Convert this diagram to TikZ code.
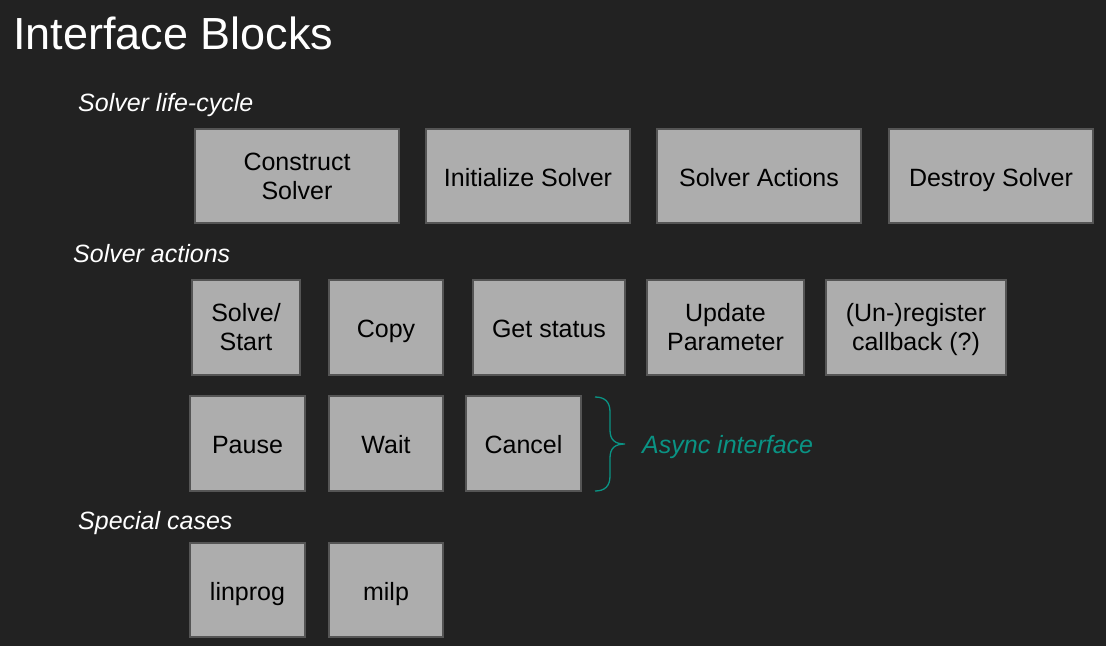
\documentclass[tikz,border=0pt]{standalone}
\usepackage{fontspec}
\setmainfont{Liberation Sans}
\definecolor{bg}{HTML}{222222}
\definecolor{boxfill}{HTML}{ADADAD}
\definecolor{boxline}{HTML}{555555}
\definecolor{teal}{HTML}{0A9384}
\tikzset{
  blk/.style={draw=boxline, line width=1.2pt, fill=boxfill, inner sep=0pt, align=center,
    font=\fontsize{25}{29}\selectfont, text=black, text height=20pt, text depth=0pt},
  two/.style={text height=46pt, text depth=0pt},
  sect/.style={anchor=base west, text=white, font=\fontsize{25}{28}\selectfont\itshape, inner sep=0pt},
}
\newcommand{\blkat}[7][]{\node[blk, #1, minimum width={#5-#3}, minimum height={#6-#4}] (#2) at ({(#3+#5)/2},{(#4+#6)/2}) {#7};}
\begin{document}
\begin{tikzpicture}[x=1pt,y=-1pt]
\fill[bg] (0,0) rectangle (1106,646);
\useasboundingbox (0,0) rectangle (1106,646);
\node[anchor=base west, text=white, font=\fontsize{45}{50}\selectfont, inner sep=0pt] (title) at (13,49) {Interface Blocks};
\node[sect] (lc) at (78,111) {Solver life-cycle};
\node[sect] (sa) at (73,262) {Solver actions};
\node[sect] (sc) at (78,529) {Special cases};
% row 1
\blkat[two]{cs}{195}{129}{399}{223}{Construct\\Solver}
\blkat{is}{426}{129}{630}{223}{Initialize Solver}
\blkat{act}{657}{129}{861}{223}{Solver Actions}
\blkat{ds}{889}{129}{1093}{223}{Destroy Solver}
% row 2
\blkat[two]{ss}{192}{280}{300}{375}{Solve/\\Start}
\blkat{cp}{329}{280}{443}{375}{Copy}
\blkat{gs}{473}{280}{625}{375}{Get status}
\blkat[two]{up}{647}{280}{804}{375}{Update\\Parameter}
\blkat[two]{rc}{826}{280}{1006}{375}{(Un-)register\\callback (?)}
% row 3
\blkat{pa}{190}{396}{305}{491}{Pause}
\blkat{wt}{329}{396}{443}{491}{Wait}
\blkat{cn}{466}{396}{581}{491}{Cancel}
% row 4
\blkat{lp}{190}{543}{305}{637}{linprog}
\blkat{ml}{329}{543}{443}{637}{milp}
% brace
\draw[teal, line width=1.3pt] (595,397) .. controls (605,397) and (610,402) .. (610,412) -- (610,430) .. controls (610,440) and (615,444) .. (625,444) .. controls (615,444) and (610,448) .. (610,458) -- (610,476) .. controls (610,486) and (605,491) .. (595,491);
\node[anchor=base west, text=teal, font=\fontsize{25}{28}\selectfont\itshape, inner sep=0pt] (async) at (642,453) {Async interface};
\end{tikzpicture}
\end{document}
